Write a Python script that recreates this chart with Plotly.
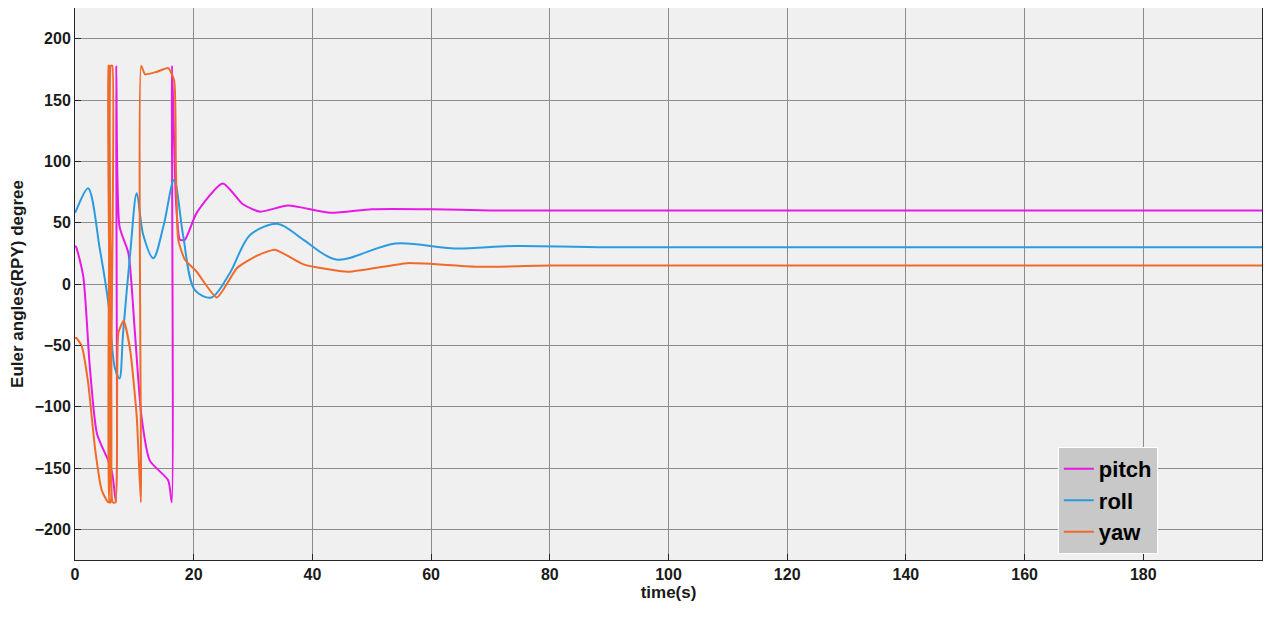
import plotly.graph_objects as go

pitch_t = [0, 0.2, 1.4, 2.5, 3.7, 5.6, 6.3, 6.9, 6.95, 7.5, 9.0, 10.1, 11.2, 12.6, 15.7, 16.3, 16.35, 17.0, 17.7, 18.5, 20.5, 24.9, 28.3, 31.2, 35.9, 43, 50, 60, 70, 80, 200]
pitch_v = [31, 30, 6, -68, -122, -144, -155, -178, 178, 47, 25, -40, -108, -144, -160, -178, 178, 69, 36, 36, 58, 82, 65, 59, 64, 58, 61, 61, 60, 60, 60]

roll_t = [0, 0.2, 2.2, 4.2, 5.6, 6.7, 7.5, 8.1, 9.3, 10.4, 11.5, 13.2, 14.9, 16.7, 18.2, 20.2, 23.0, 26.1, 29.5, 34.2, 38.5, 44, 54, 64, 74, 90, 200]
roll_v = [58, 60, 78, 28, -15, -68, -77, -40, 25, 74, 40, 21, 47, 85, 40, -5, -11, 9, 40, 49, 36, 20, 33, 29, 31, 30, 30]

yaw_t = [0, 0.2, 1.1, 2.2, 3.4, 4.5, 5.6, 5.65, 5.75, 5.8, 6.0, 6.05, 6.3, 6.35, 6.8, 7.3, 8.2, 9.3, 10.4, 11.1, 11.15, 11.8, 13.8, 15.7, 16.7, 17.0, 17.4, 18.5, 20.5, 23.9, 27.3, 30.6, 33.7, 38.5, 46, 56, 68, 80, 200]
yaw_v = [-44, -44, -50, -80, -135, -168, -178, 178, 178, -178, -178, 178, 178, -178, -178, -40, -30, -54, -108, -178, 178, 171, 173, 176, 166, 96, 36, 20, 10, -11, 13, 23, 28, 16, 10, 17, 14, 15, 15]

fig = go.Figure()
fig.add_trace(go.Scatter(x=pitch_t, y=pitch_v, mode="lines", name="pitch", line=dict(color="#e619e6", width=2, shape="spline", smoothing=0.6)))
fig.add_trace(go.Scatter(x=roll_t, y=roll_v, mode="lines", name="roll", line=dict(color="#2b9be0", width=2, shape="spline", smoothing=0.9)))
fig.add_trace(go.Scatter(x=yaw_t, y=yaw_v, mode="lines", name="yaw", line=dict(color="#f06a2a", width=2, shape="spline", smoothing=0.5)))

tf = dict(family="Liberation Sans, Arial", size=16, color="#1a1a1a", weight="bold")
axis_common = dict(showgrid=True, gridcolor="#8c8c8c", gridwidth=1, showline=True, linecolor="#262626", linewidth=1, mirror=True, ticks="inside", ticklen=6, tickcolor="#262626", zeroline=False, tickfont=tf, automargin=False)
fig.update_xaxes(range=[0, 200], dtick=20, title=dict(text="time(s)", font=dict(size=17, color="#1a1a1a", weight="bold"), standoff=2), **axis_common)
fig.update_yaxes(range=[-225, 225], tickvals=[-200, -150, -100, -50, 0, 50, 100, 150, 200], tickformat="d", title=dict(text="Euler angles(RPY) degree", font=dict(size=17, color="#1a1a1a", weight="bold"), standoff=8), **axis_common)
fig.update_layout(
    width=1264, height=601, paper_bgcolor="white", plot_bgcolor="#f0f0f0",
    margin=dict(l=67, r=10, t=0, b=49),
    separators=".-",
    font=dict(family="Liberation Sans, Arial", color="#1a1a1a"),
    legend=dict(x=0.828, y=0.205, xanchor="left", yanchor="top", bgcolor="#c8c8c8", bordercolor="white", borderwidth=1, font=dict(size=22, color="black", family="Liberation Sans", weight="bold"), tracegroupgap=0),
    showlegend=True,
)
fig.write_html("out.html")
